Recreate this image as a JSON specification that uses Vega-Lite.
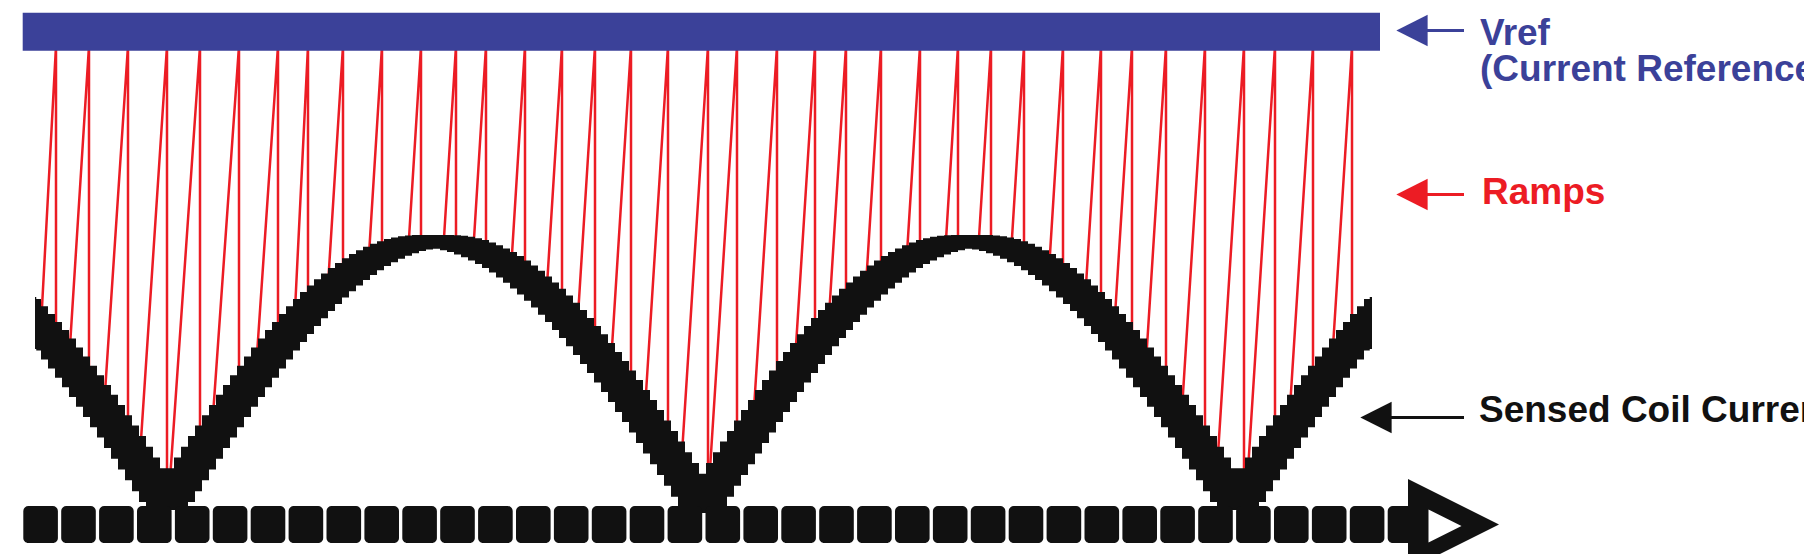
{
  "$schema": "https://vega.github.io/schema/vega-lite/v6.json",
  "width": 1804,
  "height": 554,
  "autosize": {"type": "none"},
  "padding": 0,
  "background": "white",
  "config": {"view": {"stroke": null}, "font": "Liberation Sans"},
  "datasets": {
    "vref": [{"t": 22.7, "t2": 1380, "v": 12.7, "v2": 50.7}],
    "ramps": [
      {"r":1,"k":0,"t":41.7,"v":313.0},{"r":1,"k":1,"t":56,"v":46},{"r":1,"k":2,"t":56,"v":329.0},
      {"r":2,"k":0,"t":70,"v":345.8},{"r":2,"k":1,"t":89,"v":46},{"r":2,"k":2,"t":89,"v":370.4},
      {"r":3,"k":0,"t":105,"v":392.3},{"r":3,"k":1,"t":128,"v":46},{"r":3,"k":2,"t":128,"v":425.7},
      {"r":4,"k":0,"t":140.7,"v":444.6},{"r":4,"k":1,"t":167,"v":46},{"r":4,"k":2,"t":167,"v":479.7},
      {"r":5,"k":0,"t":170,"v":479.7},{"r":5,"k":1,"t":200,"v":46},{"r":5,"k":2,"t":200,"v":434.6},
      {"r":6,"k":0,"t":213,"v":415.3},{"r":6,"k":1,"t":239,"v":46},{"r":6,"k":2,"t":239,"v":378.4},
      {"r":7,"k":0,"t":257,"v":354.7},{"r":7,"k":1,"t":278,"v":46},{"r":7,"k":2,"t":278,"v":329.0},
      {"r":8,"k":0,"t":295,"v":310.2},{"r":8,"k":1,"t":308,"v":46},{"r":8,"k":2,"t":308,"v":297.1},
      {"r":9,"k":0,"t":328.4,"v":278.7},{"r":9,"k":1,"t":343,"v":46},{"r":9,"k":2,"t":343,"v":268.3},
      {"r":10,"k":0,"t":369.1,"v":253.2},{"r":10,"k":1,"t":382,"v":46},{"r":10,"k":2,"t":382,"v":247.9},
      {"r":11,"k":0,"t":408.8,"v":241.7},{"r":11,"k":1,"t":421,"v":46},{"r":11,"k":2,"t":421,"v":241.0},
      {"r":12,"k":0,"t":443.8,"v":241.0},{"r":12,"k":1,"t":456,"v":46},{"r":12,"k":2,"t":456,"v":241.3},
      {"r":13,"k":0,"t":473.7,"v":243.9},{"r":13,"k":1,"t":486,"v":46},{"r":13,"k":2,"t":486,"v":247.4},
      {"r":14,"k":0,"t":511.7,"v":259.0},{"r":14,"k":1,"t":525,"v":46},{"r":14,"k":2,"t":525,"v":267.2},
      {"r":15,"k":0,"t":547.1,"v":284.1},{"r":15,"k":1,"t":562,"v":46},{"r":15,"k":2,"t":562,"v":297.6},
      {"r":16,"k":0,"t":578.1,"v":314.0},{"r":16,"k":1,"t":595,"v":46},{"r":16,"k":2,"t":595,"v":333.0},
      {"r":17,"k":0,"t":611.6,"v":353.5},{"r":17,"k":1,"t":631,"v":46},{"r":17,"k":2,"t":631,"v":379.2},
      {"r":18,"k":0,"t":645.6,"v":399.5},{"r":18,"k":1,"t":668,"v":46},{"r":18,"k":2,"t":668,"v":432.3},
      {"r":19,"k":0,"t":682.0,"v":453.5},{"r":19,"k":1,"t":708,"v":46},{"r":19,"k":2,"t":708,"v":476.6},
      {"r":20,"k":0,"t":709.7,"v":474.0},{"r":20,"k":1,"t":737,"v":46},{"r":20,"k":2,"t":737,"v":432.3},
      {"r":21,"k":0,"t":754.1,"v":407.2},{"r":21,"k":1,"t":777,"v":46},{"r":21,"k":2,"t":777,"v":375.1},
      {"r":22,"k":0,"t":795.7,"v":350.6},{"r":22,"k":1,"t":815,"v":46},{"r":22,"k":2,"t":815,"v":327.2},
      {"r":23,"k":0,"t":829.3,"v":311.5},{"r":23,"k":1,"t":846,"v":46},{"r":23,"k":2,"t":846,"v":294.8},
      {"r":24,"k":0,"t":866.5,"v":277.1},{"r":24,"k":1,"t":881,"v":46},{"r":24,"k":2,"t":881,"v":266.6},
      {"r":25,"k":0,"t":907.1,"v":251.9},{"r":25,"k":1,"t":920,"v":46},{"r":25,"k":2,"t":920,"v":247.0},
      {"r":26,"k":0,"t":945.9,"v":241.6},{"r":26,"k":1,"t":958,"v":46},{"r":26,"k":2,"t":958,"v":241.0},
      {"r":27,"k":0,"t":978.8,"v":241.0},{"r":27,"k":1,"t":991,"v":46},{"r":27,"k":2,"t":991,"v":241.2},
      {"r":28,"k":0,"t":1011.6,"v":244.4},{"r":28,"k":1,"t":1024,"v":46},{"r":28,"k":2,"t":1024,"v":248.2},
      {"r":29,"k":0,"t":1049.6,"v":260.4},{"r":29,"k":1,"t":1063,"v":46},{"r":29,"k":2,"t":1063,"v":269.0},
      {"r":30,"k":0,"t":1085.9,"v":286.9},{"r":30,"k":1,"t":1101,"v":46},{"r":30,"k":2,"t":1101,"v":301.0},
      {"r":31,"k":0,"t":1115.0,"v":315.5},{"r":31,"k":1,"t":1132,"v":46},{"r":31,"k":2,"t":1132,"v":334.9},
      {"r":32,"k":0,"t":1146.6,"v":352.9},{"r":32,"k":1,"t":1166,"v":46},{"r":32,"k":2,"t":1166,"v":378.4},
      {"r":33,"k":0,"t":1182.5,"v":401.5},{"r":33,"k":1,"t":1205,"v":46},{"r":33,"k":2,"t":1205,"v":434.6},
      {"r":34,"k":0,"t":1218.0,"v":454.2},{"r":34,"k":1,"t":1244,"v":46},{"r":34,"k":2,"t":1244,"v":478.9},
      {"r":35,"k":0,"t":1248.1,"v":468.9},{"r":35,"k":1,"t":1275,"v":46},{"r":35,"k":2,"t":1275,"v":428.6},
      {"r":36,"k":0,"t":1290.1,"v":406.4},{"r":36,"k":1,"t":1313,"v":46},{"r":36,"k":2,"t":1313,"v":374.4},
      {"r":37,"k":0,"t":1332.9,"v":348.5},{"r":37,"k":1,"t":1352,"v":46},{"r":37,"k":2,"t":1352,"v":325.5}
    ],
    "coil": [
      {"t":35,"top":297,"bot":349},
      {"t":37.5,"top":299.1,"bot":350.6},{"t":44.5,"top":306.3,"bot":359.5},{"t":51.5,"top":313.9,"bot":368.5},
      {"t":58.5,"top":321.9,"bot":377.7},{"t":65.5,"top":330.1,"bot":387.2},{"t":72.5,"top":338.6,"bot":396.9},
      {"t":79.5,"top":347.5,"bot":406.8},{"t":86.5,"top":356.5,"bot":416.9},{"t":93.5,"top":365.7,"bot":427.2},
      {"t":100.5,"top":375.2,"bot":437.6},{"t":107.5,"top":384.9,"bot":448.1},{"t":114.5,"top":394.8,"bot":458.8},
      {"t":121.5,"top":404.9,"bot":469.5},{"t":128.5,"top":415.2,"bot":480.3},{"t":135.5,"top":425.6,"bot":491.2},
      {"t":142.5,"top":436.1,"bot":502.1},{"t":149.5,"top":446.8,"bot":510},{"t":156.5,"top":457.5,"bot":510},
      {"t":163.5,"top":468.3,"bot":510},{"t":170.5,"top":468.3,"bot":510},{"t":177.5,"top":457.5,"bot":510},
      {"t":184.5,"top":446.8,"bot":510},{"t":191.5,"top":436.1,"bot":502.1},{"t":198.5,"top":425.6,"bot":491.2},
      {"t":205.5,"top":415.2,"bot":480.3},{"t":212.5,"top":404.9,"bot":469.5},{"t":219.5,"top":394.8,"bot":458.8},
      {"t":226.5,"top":384.9,"bot":448.1},{"t":233.5,"top":375.2,"bot":437.6},{"t":240.5,"top":365.7,"bot":427.2},
      {"t":247.5,"top":356.5,"bot":416.9},{"t":254.5,"top":347.5,"bot":406.8},{"t":261.5,"top":338.6,"bot":396.9},
      {"t":268.5,"top":330.1,"bot":387.2},{"t":275.5,"top":321.9,"bot":377.7},{"t":282.5,"top":313.9,"bot":368.5},
      {"t":289.5,"top":306.3,"bot":359.5},{"t":296.5,"top":299.1,"bot":350.6},{"t":303.5,"top":292.1,"bot":342.1},
      {"t":310.5,"top":285.5,"bot":333.9},{"t":317.5,"top":279.3,"bot":325.9},{"t":324.5,"top":273.5,"bot":318.3},
      {"t":331.5,"top":268.0,"bot":311.1},{"t":338.5,"top":263.0,"bot":304.1},{"t":345.5,"top":258.3,"bot":297.5},
      {"t":352.5,"top":254.0,"bot":291.3},{"t":359.5,"top":250.2,"bot":285.5},{"t":366.5,"top":246.8,"bot":280.0},
      {"t":373.5,"top":243.8,"bot":275.0},{"t":380.5,"top":241.2,"bot":270.3},{"t":387.5,"top":239.1,"bot":266.0},
      {"t":394.5,"top":237.5,"bot":262.2},{"t":401.5,"top":236.2,"bot":258.8},{"t":408.5,"top":235.4,"bot":255.8},
      {"t":415.5,"top":235.0,"bot":253.2},{"t":422.5,"top":235.0,"bot":251.1},{"t":429.5,"top":235.0,"bot":249.5},
      {"t":436.5,"top":235.0,"bot":248.8},{"t":443.5,"top":235.0,"bot":250.2},{"t":450.5,"top":235.0,"bot":252.1},
      {"t":457.5,"top":235.2,"bot":254.5},{"t":464.5,"top":235.8,"bot":257.2},{"t":471.5,"top":236.8,"bot":260.4},
      {"t":478.5,"top":238.2,"bot":264.1},{"t":485.5,"top":240.1,"bot":268.1},{"t":492.5,"top":242.5,"bot":272.6},
      {"t":499.5,"top":245.2,"bot":277.5},{"t":506.5,"top":248.4,"bot":282.7},{"t":513.5,"top":252.1,"bot":288.4},
      {"t":520.5,"top":256.1,"bot":294.4},{"t":527.5,"top":260.6,"bot":300.8},{"t":534.5,"top":265.5,"bot":307.6},
      {"t":541.5,"top":270.7,"bot":314.7},{"t":548.5,"top":276.4,"bot":322.1},{"t":555.5,"top":282.4,"bot":329.9},
      {"t":562.5,"top":288.8,"bot":337.9},{"t":569.5,"top":295.6,"bot":346.3},{"t":576.5,"top":302.7,"bot":355.0},
      {"t":583.5,"top":310.1,"bot":363.9},{"t":590.5,"top":317.9,"bot":373.1},{"t":597.5,"top":325.9,"bot":382.5},
      {"t":604.5,"top":334.3,"bot":392.1},{"t":611.5,"top":343.0,"bot":401.9},{"t":618.5,"top":351.9,"bot":411.9},
      {"t":625.5,"top":361.1,"bot":422.1},{"t":632.5,"top":370.5,"bot":432.4},{"t":639.5,"top":380.1,"bot":442.9},
      {"t":646.5,"top":389.9,"bot":453.5},{"t":653.5,"top":399.9,"bot":464.2},{"t":660.5,"top":410.1,"bot":474.9},
      {"t":667.5,"top":420.4,"bot":485.8},{"t":674.5,"top":430.9,"bot":496.7},{"t":681.5,"top":441.5,"bot":507.6},
      {"t":688.5,"top":452.2,"bot":513},{"t":695.5,"top":462.9,"bot":513},{"t":702.5,"top":473.8,"bot":513},
      {"t":709.5,"top":462.9,"bot":513},{"t":716.5,"top":452.2,"bot":513},{"t":723.5,"top":441.5,"bot":507.6},
      {"t":730.5,"top":430.9,"bot":496.7},{"t":737.5,"top":420.4,"bot":485.8},{"t":744.5,"top":410.1,"bot":474.9},
      {"t":751.5,"top":399.9,"bot":464.2},{"t":758.5,"top":389.9,"bot":453.5},{"t":765.5,"top":380.1,"bot":442.9},
      {"t":772.5,"top":370.5,"bot":432.4},{"t":779.5,"top":361.1,"bot":422.1},{"t":786.5,"top":351.9,"bot":411.9},
      {"t":793.5,"top":343.0,"bot":401.9},{"t":800.5,"top":334.3,"bot":392.1},{"t":807.5,"top":325.9,"bot":382.5},
      {"t":814.5,"top":317.9,"bot":373.1},{"t":821.5,"top":310.1,"bot":363.9},{"t":828.5,"top":302.7,"bot":355.0},
      {"t":835.5,"top":295.6,"bot":346.3},{"t":842.5,"top":288.8,"bot":337.9},{"t":849.5,"top":282.4,"bot":329.9},
      {"t":856.5,"top":276.4,"bot":322.1},{"t":863.5,"top":270.7,"bot":314.7},{"t":870.5,"top":265.5,"bot":307.6},
      {"t":877.5,"top":260.6,"bot":300.8},{"t":884.5,"top":256.1,"bot":294.4},{"t":891.5,"top":252.1,"bot":288.4},
      {"t":898.5,"top":248.4,"bot":282.7},{"t":905.5,"top":245.2,"bot":277.5},{"t":912.5,"top":242.5,"bot":272.6},
      {"t":919.5,"top":240.1,"bot":268.1},{"t":926.5,"top":238.2,"bot":264.1},{"t":933.5,"top":236.8,"bot":260.4},
      {"t":940.5,"top":235.8,"bot":257.2},{"t":947.5,"top":235.2,"bot":254.5},{"t":954.5,"top":235.0,"bot":252.1},
      {"t":961.5,"top":235.0,"bot":250.2},{"t":968.5,"top":235.0,"bot":248.8},{"t":975.5,"top":235.0,"bot":249.5},
      {"t":982.5,"top":235.0,"bot":251.1},{"t":989.5,"top":235.0,"bot":253.2},{"t":996.5,"top":235.4,"bot":255.8},
      {"t":1003.5,"top":236.2,"bot":258.8},{"t":1010.5,"top":237.5,"bot":262.2},{"t":1017.5,"top":239.1,"bot":266.0},
      {"t":1024.5,"top":241.2,"bot":270.3},{"t":1031.5,"top":243.8,"bot":275.0},{"t":1038.5,"top":246.8,"bot":280.0},
      {"t":1045.5,"top":250.2,"bot":285.5},{"t":1052.5,"top":254.0,"bot":291.3},{"t":1059.5,"top":258.3,"bot":297.5},
      {"t":1066.5,"top":263.0,"bot":304.1},{"t":1073.5,"top":268.0,"bot":311.1},{"t":1080.5,"top":273.5,"bot":318.3},
      {"t":1087.5,"top":279.3,"bot":325.9},{"t":1094.5,"top":285.5,"bot":333.9},{"t":1101.5,"top":292.1,"bot":342.1},
      {"t":1108.5,"top":299.1,"bot":350.6},{"t":1115.5,"top":306.3,"bot":359.5},{"t":1122.5,"top":313.9,"bot":368.5},
      {"t":1129.5,"top":321.9,"bot":377.7},{"t":1136.5,"top":330.1,"bot":387.2},{"t":1143.5,"top":338.6,"bot":396.9},
      {"t":1150.5,"top":347.5,"bot":406.8},{"t":1157.5,"top":356.5,"bot":416.9},{"t":1164.5,"top":365.7,"bot":427.2},
      {"t":1171.5,"top":375.2,"bot":437.6},{"t":1178.5,"top":384.9,"bot":448.1},{"t":1185.5,"top":394.8,"bot":458.8},
      {"t":1192.5,"top":404.9,"bot":469.5},{"t":1199.5,"top":415.2,"bot":480.3},{"t":1206.5,"top":425.6,"bot":491.2},
      {"t":1213.5,"top":436.1,"bot":502.1},{"t":1220.5,"top":446.8,"bot":510},{"t":1227.5,"top":457.5,"bot":510},
      {"t":1234.5,"top":468.3,"bot":510},{"t":1241.5,"top":468.3,"bot":510},{"t":1248.5,"top":457.5,"bot":510},
      {"t":1255.5,"top":446.8,"bot":510},{"t":1262.5,"top":436.1,"bot":502.1},{"t":1269.5,"top":425.6,"bot":491.2},
      {"t":1276.5,"top":415.2,"bot":480.3},{"t":1283.5,"top":404.9,"bot":469.5},{"t":1290.5,"top":394.8,"bot":458.8},
      {"t":1297.5,"top":384.9,"bot":448.1},{"t":1304.5,"top":375.2,"bot":437.6},{"t":1311.5,"top":365.7,"bot":427.2},
      {"t":1318.5,"top":356.5,"bot":416.9},{"t":1325.5,"top":347.5,"bot":406.8},{"t":1332.5,"top":338.6,"bot":396.9},
      {"t":1339.5,"top":330.1,"bot":387.2},{"t":1346.5,"top":321.9,"bot":377.7},{"t":1353.5,"top":313.9,"bot":368.5},
      {"t":1360.5,"top":306.3,"bot":359.5},{"t":1367.5,"top":299.1,"bot":350.6},
      {"t":1372,"top":297,"bot":349}
    ],
    "dashes": [
      {"a":23.3,"b":57.9},{"a":61.2,"b":95.8},{"a":99.1,"b":133.7},{"a":137.0,"b":171.6},
      {"a":174.9,"b":209.5},{"a":212.8,"b":247.4},{"a":250.7,"b":285.3},{"a":288.6,"b":323.2},
      {"a":326.5,"b":361.1},{"a":364.4,"b":399.0},{"a":402.3,"b":436.9},{"a":440.2,"b":474.8},
      {"a":478.1,"b":512.7},{"a":516.0,"b":550.6},{"a":553.9,"b":588.5},{"a":591.8,"b":626.4},
      {"a":629.7,"b":664.3},{"a":667.6,"b":702.2},{"a":705.5,"b":740.1},{"a":743.4,"b":778.0},
      {"a":781.3,"b":815.9},{"a":819.2,"b":853.8},{"a":857.1,"b":891.7},{"a":895.0,"b":929.6},
      {"a":932.9,"b":967.5},{"a":970.8,"b":1005.4},{"a":1008.7,"b":1043.3},{"a":1046.6,"b":1081.2},
      {"a":1084.5,"b":1119.1},{"a":1122.4,"b":1157.0},{"a":1160.3,"b":1194.9},{"a":1198.2,"b":1232.8},
      {"a":1236.1,"b":1270.7},{"a":1274.0,"b":1308.6},{"a":1311.9,"b":1346.5},{"a":1349.8,"b":1384.4},
      {"a":1387.7,"b":1422.3}
    ],
    "head": [
      {"part": "outer", "t": 1453.5, "v": 524.5},
      {"part": "inner", "t": 1445, "v": 526}
    ],
    "pointers": [
      {"s": "vref", "t": 1412, "t2": 1464, "v": 30.5},
      {"s": "ramp", "t": 1412, "t2": 1464, "v": 194.5},
      {"s": "coil", "t": 1376, "t2": 1464, "v": 417.5}
    ],
    "labels": [
      {"s": "vref", "t": 1480, "v": 45, "label": "Vref"},
      {"s": "vref", "t": 1480, "v": 80.7, "label": "(Current Reference)"},
      {"s": "ramp", "t": 1482, "v": 203.5, "label": "Ramps"},
      {"s": "coil", "t": 1479, "v": 421.7, "label": "Sensed Coil Current"}
    ]
  },
  "layer": [
    {
      "data": {"name": "ramps"},
      "mark": {"type": "line", "color": "#ec1c24", "strokeWidth": 2.5},
      "encoding": {
        "x": {"field": "t", "type": "quantitative", "scale": {"domain": [0, 1804], "nice": false, "zero": false}, "axis": null},
        "y": {"field": "v", "type": "quantitative", "scale": {"domain": [0, 554], "reverse": true, "nice": false, "zero": false}, "axis": null},
        "detail": {"field": "r", "type": "nominal"},
        "order": {"field": "k", "type": "quantitative"}
      }
    },
    {
      "data": {"name": "vref"},
      "mark": {"type": "rect", "color": "#3b4199"},
      "encoding": {
        "x": {"field": "t", "type": "quantitative", "scale": {"domain": [0, 1804], "nice": false, "zero": false}, "axis": null},
        "x2": {"field": "t2"},
        "y": {"field": "v", "type": "quantitative", "scale": {"domain": [0, 554], "reverse": true, "nice": false, "zero": false}, "axis": null},
        "y2": {"field": "v2"}
      }
    },
    {
      "data": {"name": "coil"},
      "mark": {"type": "area", "color": "#111111", "interpolate": "step", "opacity": 1},
      "encoding": {
        "x": {"field": "t", "type": "quantitative", "scale": {"domain": [0, 1804], "nice": false, "zero": false}, "axis": null},
        "y": {"field": "top", "type": "quantitative", "scale": {"domain": [0, 554], "reverse": true, "nice": false, "zero": false}, "axis": null},
        "y2": {"field": "bot"}
      }
    },
    {
      "data": {"name": "dashes"},
      "mark": {"type": "rect", "color": "#111111", "cornerRadius": 5},
      "encoding": {
        "x": {"field": "a", "type": "quantitative", "scale": {"domain": [0, 1804], "nice": false, "zero": false}, "axis": null},
        "x2": {"field": "b"},
        "y": {"datum": 506, "type": "quantitative", "scale": {"domain": [0, 554], "reverse": true, "nice": false, "zero": false}, "axis": null},
        "y2": {"datum": 543}
      }
    },
    {
      "data": {"name": "head"},
      "transform": [{"filter": "datum.part == 'outer'"}],
      "mark": {"type": "point", "shape": "M-1,-1L1,0L-1,1Z", "size": 8281, "filled": true, "opacity": 1, "color": "#111111", "strokeWidth": 0},
      "encoding": {
        "x": {"field": "t", "type": "quantitative", "scale": {"domain": [0, 1804], "nice": false, "zero": false}, "axis": null},
        "y": {"field": "v", "type": "quantitative", "scale": {"domain": [0, 554], "reverse": true, "nice": false, "zero": false}, "axis": null}
      }
    },
    {
      "data": {"name": "head"},
      "transform": [{"filter": "datum.part == 'inner'"}],
      "mark": {"type": "point", "shape": "M-1,-1L1,0L-1,1Z", "size": 1089, "filled": true, "opacity": 1, "color": "#ffffff", "strokeWidth": 0},
      "encoding": {
        "x": {"field": "t", "type": "quantitative", "scale": {"domain": [0, 1804], "nice": false, "zero": false}, "axis": null},
        "y": {"field": "v", "type": "quantitative", "scale": {"domain": [0, 554], "reverse": true, "nice": false, "zero": false}, "axis": null}
      }
    },
    {
      "data": {"name": "pointers"},
      "mark": {"type": "rule", "strokeWidth": 3},
      "encoding": {
        "x": {"field": "t", "type": "quantitative", "scale": {"domain": [0, 1804], "nice": false, "zero": false}, "axis": null},
        "x2": {"field": "t2"},
        "y": {"field": "v", "type": "quantitative", "scale": {"domain": [0, 554], "reverse": true, "nice": false, "zero": false}, "axis": null},
        "color": {"field": "s", "type": "nominal", "scale": {"domain": ["vref", "ramp", "coil"], "range": ["#3b4199", "#ec1c24", "#111111"]}, "legend": null}
      }
    },
    {
      "data": {"name": "pointers"},
      "mark": {"type": "point", "shape": "M1,-1L-1,0L1,1Z", "size": 980, "filled": true, "opacity": 1, "strokeWidth": 0},
      "encoding": {
        "x": {"field": "t", "type": "quantitative", "scale": {"domain": [0, 1804], "nice": false, "zero": false}, "axis": null},
        "y": {"field": "v", "type": "quantitative", "scale": {"domain": [0, 554], "reverse": true, "nice": false, "zero": false}, "axis": null},
        "color": {"field": "s", "type": "nominal", "scale": {"domain": ["vref", "ramp", "coil"], "range": ["#3b4199", "#ec1c24", "#111111"]}, "legend": null}
      }
    },
    {
      "data": {"name": "labels"},
      "mark": {"type": "text", "align": "left", "baseline": "alphabetic", "font": "Liberation Sans", "fontWeight": "bold", "fontSize": 37},
      "encoding": {
        "x": {"field": "t", "type": "quantitative", "scale": {"domain": [0, 1804], "nice": false, "zero": false}, "axis": null},
        "y": {"field": "v", "type": "quantitative", "scale": {"domain": [0, 554], "reverse": true, "nice": false, "zero": false}, "axis": null},
        "text": {"field": "label"},
        "color": {"field": "s", "type": "nominal", "scale": {"domain": ["vref", "ramp", "coil"], "range": ["#3b4199", "#ec1c24", "#111111"]}, "legend": null}
      }
    }
  ]
}
